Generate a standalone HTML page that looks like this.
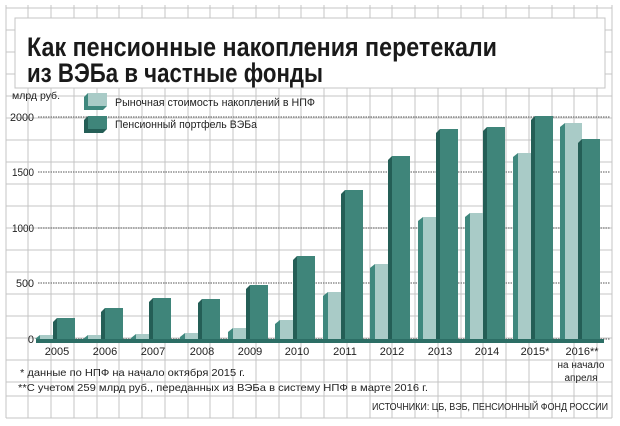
<!DOCTYPE html>
<html><head><meta charset="utf-8"><style>
html,body{margin:0;padding:0;background:#fff}
svg{display:block}
text{font-family:"Liberation Sans",sans-serif}
</style></head><body>
<svg width="620" height="426" viewBox="0 0 620 426" xmlns="http://www.w3.org/2000/svg">
<defs>
<g id="lb"><polygon points="-22,339 -22,4 -17,0 -17,339" fill="#3f887e"/></g>
</defs>
<rect width="620" height="426" fill="#fff"/>
<g stroke="#c4c4c4" stroke-width="1">
<line x1="6" y1="5" x2="6" y2="418"/><line x1="28" y1="5" x2="28" y2="418"/><line x1="51" y1="5" x2="51" y2="418"/><line x1="74" y1="5" x2="74" y2="418"/><line x1="97" y1="5" x2="97" y2="418"/><line x1="119" y1="5" x2="119" y2="418"/><line x1="142" y1="5" x2="142" y2="418"/><line x1="165" y1="5" x2="165" y2="418"/><line x1="188" y1="5" x2="188" y2="418"/><line x1="210" y1="5" x2="210" y2="418"/><line x1="233" y1="5" x2="233" y2="418"/><line x1="256" y1="5" x2="256" y2="418"/><line x1="279" y1="5" x2="279" y2="418"/><line x1="301" y1="5" x2="301" y2="418"/><line x1="324" y1="5" x2="324" y2="418"/><line x1="347" y1="5" x2="347" y2="418"/><line x1="370" y1="5" x2="370" y2="418"/><line x1="392" y1="5" x2="392" y2="418"/><line x1="415" y1="5" x2="415" y2="418"/><line x1="438" y1="5" x2="438" y2="418"/><line x1="461" y1="5" x2="461" y2="418"/><line x1="483" y1="5" x2="483" y2="418"/><line x1="506" y1="5" x2="506" y2="418"/><line x1="529" y1="5" x2="529" y2="418"/><line x1="552" y1="5" x2="552" y2="418"/><line x1="574" y1="5" x2="574" y2="418"/><line x1="597" y1="5" x2="597" y2="418"/><line x1="612" y1="5" x2="612" y2="418"/>
<line x1="6" y1="8" x2="612" y2="8"/><line x1="6" y1="30" x2="612" y2="30"/><line x1="6" y1="52" x2="612" y2="52"/><line x1="6" y1="74" x2="612" y2="74"/><line x1="6" y1="96" x2="612" y2="96"/><line x1="6" y1="118" x2="612" y2="118"/><line x1="6" y1="140" x2="612" y2="140"/><line x1="6" y1="162" x2="612" y2="162"/><line x1="6" y1="184" x2="612" y2="184"/><line x1="6" y1="206" x2="612" y2="206"/><line x1="6" y1="228" x2="612" y2="228"/><line x1="6" y1="250" x2="612" y2="250"/><line x1="6" y1="272" x2="612" y2="272"/><line x1="6" y1="294" x2="612" y2="294"/><line x1="6" y1="316" x2="612" y2="316"/><line x1="6" y1="338" x2="612" y2="338"/><line x1="6" y1="360" x2="612" y2="360"/><line x1="6" y1="382" x2="612" y2="382"/><line x1="6" y1="396" x2="612" y2="396"/><line x1="6" y1="418" x2="612" y2="418"/>
</g>
<rect x="15" y="18" width="590" height="70" fill="#fff" stroke="#c4c4c4"/>
<text x="27" y="56" font-size="27" font-weight="bold" fill="#1a1a1a" textLength="470" lengthAdjust="spacingAndGlyphs">Как пенсионные накопления перетекали</text>
<text x="27" y="82" font-size="27" font-weight="bold" fill="#1a1a1a" textLength="296" lengthAdjust="spacingAndGlyphs">из ВЭБа в частные фонды</text>
<g stroke="#777" stroke-width="1.2" stroke-dasharray="1.5,1">
<line x1="38" y1="117" x2="610" y2="117"/><line x1="38" y1="172" x2="610" y2="172"/><line x1="38" y1="228" x2="610" y2="228"/><line x1="38" y1="283" x2="610" y2="283"/><line x1="38" y1="339" x2="610" y2="339"/>
</g>
<g font-size="11" fill="#222" text-anchor="end">
<text x="34" y="121" textLength="24" lengthAdjust="spacingAndGlyphs">2000</text>
<text x="34" y="176" textLength="22" lengthAdjust="spacingAndGlyphs">1500</text>
<text x="34" y="232" textLength="22" lengthAdjust="spacingAndGlyphs">1000</text>
<text x="34" y="287" textLength="18" lengthAdjust="spacingAndGlyphs">500</text>
<text x="34" y="343">0</text>
</g>
<text x="12" y="99" font-size="10" fill="#222" textLength="48" lengthAdjust="spacingAndGlyphs">млрд руб.</text>
<polygon points="84,97 88,93 107,93 107,106 103,110 84,110" fill="#3f887e"/>
<rect x="88" y="93" width="19" height="13" fill="#a9cbc7"/>
<polygon points="84,120 88,116 107,116 107,129 103,133 84,133" fill="#245e56"/>
<rect x="88" y="116" width="19" height="13" fill="#3f857a"/>
<text x="115" y="106" font-size="11" fill="#222" textLength="200" lengthAdjust="spacingAndGlyphs">Рыночная стоимость накоплений в НПФ</text>
<text x="115" y="128" font-size="11" fill="#222" textLength="142" lengthAdjust="spacingAndGlyphs">Пенсионный портфель ВЭБа</text>
<rect x="36" y="339" width="568" height="4" fill="#2c6e65"/>

<g transform="translate(57,0)"><polygon points="-22,339 -22,339 -17,335 -17,339" fill="#3f887e"/><rect x="-17" y="335" width="17" height="4" fill="#a9cbc7"/><polygon points="-4,339 -4,322 0,318 0,339" fill="#245e56"/><rect x="0" y="318" width="18" height="21" fill="#3f857a"/></g>
<g transform="translate(105,0)"><polygon points="-22,339 -22,339 -17,335 -17,339" fill="#3f887e"/><rect x="-17" y="335" width="17" height="4" fill="#a9cbc7"/><polygon points="-4,339 -4,312 0,308 0,339" fill="#245e56"/><rect x="0" y="308" width="18" height="31" fill="#3f857a"/></g>
<g transform="translate(153,0)"><polygon points="-22,339 -22,338 -17,334 -17,339" fill="#3f887e"/><rect x="-17" y="334" width="17" height="5" fill="#a9cbc7"/><polygon points="-4,339 -4,302 0,298 0,339" fill="#245e56"/><rect x="0" y="298" width="18" height="41" fill="#3f857a"/></g>
<g transform="translate(202,0)"><polygon points="-22,339 -22,337 -17,333 -17,339" fill="#3f887e"/><rect x="-17" y="333" width="17" height="6" fill="#a9cbc7"/><polygon points="-4,339 -4,303 0,299 0,339" fill="#245e56"/><rect x="0" y="299" width="18" height="40" fill="#3f857a"/></g>
<g transform="translate(250,0)"><polygon points="-22,339 -22,332 -17,328 -17,339" fill="#3f887e"/><rect x="-17" y="328" width="17" height="11" fill="#a9cbc7"/><polygon points="-4,339 -4,289 0,285 0,339" fill="#245e56"/><rect x="0" y="285" width="18" height="54" fill="#3f857a"/></g>
<g transform="translate(297,0)"><polygon points="-22,339 -22,324 -17,320 -17,339" fill="#3f887e"/><rect x="-17" y="320" width="17" height="19" fill="#a9cbc7"/><polygon points="-4,339 -4,260 0,256 0,339" fill="#245e56"/><rect x="0" y="256" width="18" height="83" fill="#3f857a"/></g>
<g transform="translate(345,0)"><polygon points="-22,339 -22,296 -17,292 -17,339" fill="#3f887e"/><rect x="-17" y="292" width="17" height="47" fill="#a9cbc7"/><polygon points="-4,339 -4,194 0,190 0,339" fill="#245e56"/><rect x="0" y="190" width="18" height="149" fill="#3f857a"/></g>
<g transform="translate(392,0)"><polygon points="-22,339 -22,268 -17,264 -17,339" fill="#3f887e"/><rect x="-17" y="264" width="17" height="75" fill="#a9cbc7"/><polygon points="-4,339 -4,160 0,156 0,339" fill="#245e56"/><rect x="0" y="156" width="18" height="183" fill="#3f857a"/></g>
<g transform="translate(440,0)"><polygon points="-22,339 -22,221 -17,217 -17,339" fill="#3f887e"/><rect x="-17" y="217" width="17" height="122" fill="#a9cbc7"/><polygon points="-4,339 -4,133 0,129 0,339" fill="#245e56"/><rect x="0" y="129" width="18" height="210" fill="#3f857a"/></g>
<g transform="translate(487,0)"><polygon points="-22,339 -22,217 -17,213 -17,339" fill="#3f887e"/><rect x="-17" y="213" width="17" height="126" fill="#a9cbc7"/><polygon points="-4,339 -4,131 0,127 0,339" fill="#245e56"/><rect x="0" y="127" width="18" height="212" fill="#3f857a"/></g>
<g transform="translate(535,0)"><polygon points="-22,339 -22,157 -17,153 -17,339" fill="#3f887e"/><rect x="-17" y="153" width="17" height="186" fill="#a9cbc7"/><polygon points="-4,339 -4,120 0,116 0,339" fill="#245e56"/><rect x="0" y="116" width="18" height="223" fill="#3f857a"/></g>
<g transform="translate(582,0)"><polygon points="-22,339 -22,127 -17,123 -17,339" fill="#3f887e"/><rect x="-17" y="123" width="17" height="216" fill="#a9cbc7"/><polygon points="-4,339 -4,143 0,139 0,339" fill="#245e56"/><rect x="0" y="139" width="18" height="200" fill="#3f857a"/></g>

<g font-size="11" fill="#222" text-anchor="middle">
<text x="57" y="355">2005</text><text x="105" y="355">2006</text><text x="153" y="355">2007</text><text x="202" y="355">2008</text><text x="250" y="355">2009</text><text x="297" y="355">2010</text><text x="345" y="355">2011</text><text x="392" y="355">2012</text><text x="440" y="355">2013</text><text x="487" y="355">2014</text><text x="535" y="355">2015*</text><text x="582" y="355">2016**</text>
<text x="581" y="368" font-size="10">на начало</text><text x="581" y="381" font-size="10">апреля</text>
</g>
<text x="20" y="376" font-size="10.5" fill="#222" textLength="225" lengthAdjust="spacingAndGlyphs">* данные по НПФ на начало октября 2015 г.</text>
<text x="18" y="391" font-size="10.5" fill="#222" textLength="410" lengthAdjust="spacingAndGlyphs">**С учетом 259 млрд руб., переданных из ВЭБа в систему НПФ в марте 2016 г.</text>
<text x="608" y="410" font-size="10.5" fill="#222" text-anchor="end" textLength="236" lengthAdjust="spacingAndGlyphs">ИСТОЧНИКИ: ЦБ, ВЭБ, ПЕНСИОННЫЙ ФОНД РОССИИ</text>
</svg>
</body></html>
